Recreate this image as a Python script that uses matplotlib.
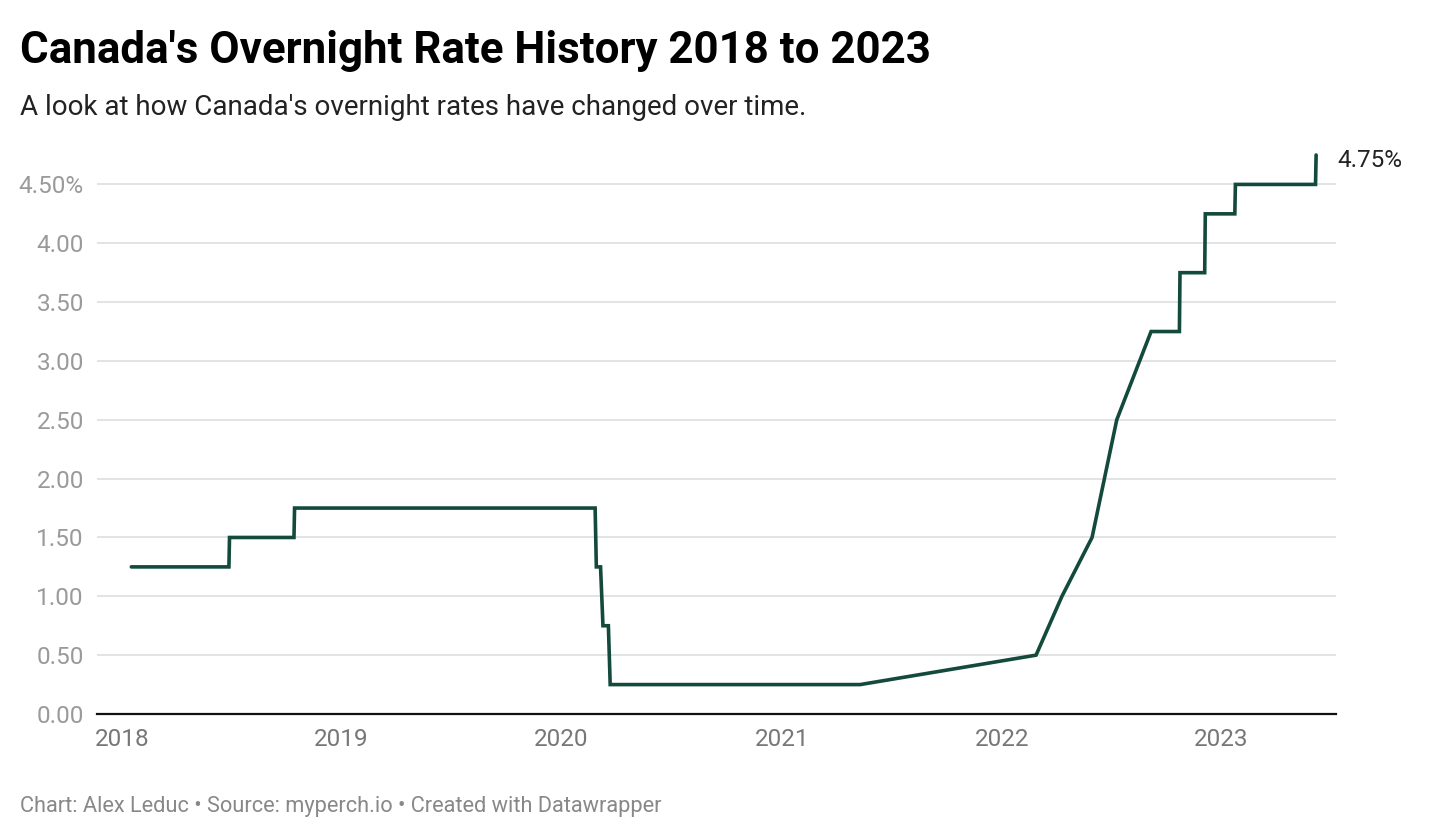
import matplotlib
matplotlib.use("Agg")
import matplotlib.pyplot as plt
import pandas as pd

plt.rcParams["font.family"] = ["Roboto", "DejaVu Sans"]

dates = [
    "2018-01-17", "2018-06-28", "2018-06-29", "2018-10-14", "2018-10-15",
    "2020-02-26", "2020-02-28", "2020-03-06", "2020-03-10", "2020-03-19",
    "2020-03-22", "2021-05-11", "2022-02-27", "2022-04-11", "2022-05-31",
    "2022-07-11", "2022-09-06", "2022-10-23", "2022-10-24", "2022-12-04",
    "2022-12-05", "2023-01-23", "2023-01-24", "2023-06-06", "2023-06-07",
]
rates = [
    1.25, 1.25, 1.50, 1.50, 1.75,
    1.75, 1.25, 1.25, 0.75, 0.75,
    0.25, 0.25, 0.50, 1.00, 1.50,
    2.50, 3.25, 3.25, 3.75, 3.75,
    4.25, 4.25, 4.50, 4.50, 4.75,
]
y_ticks = [0, 0.5, 1.0, 1.5, 2.0, 2.5, 3.0, 3.5, 4.0, 4.5]
y_labels = ["0.00", "0.50", "1.00", "1.50", "2.00", "2.50", "3.00", "3.50", "4.00", "4.50%"]
years = [2018, 2019, 2020, 2021, 2022, 2023]

dates = pd.to_datetime(dates)

W, H = 1440, 840
fig = plt.figure(figsize=(W / 100, H / 100), dpi=100)
ax = fig.add_axes([97 / W, 1 - 714 / H, (1336 - 97) / W, (714 - 155) / H])

ax.plot(dates, rates, color="#134a3c", lw=2.6, solid_joinstyle="miter",
        solid_capstyle="round", clip_on=False, zorder=3)

ax.set_xlim(pd.Timestamp("2017-11-21"), pd.Timestamp("2023-07-10"))
ax.set_ylim(0, 4.75)

ax.set_yticks(y_ticks)
ax.set_yticklabels(y_labels)
ax.set_xticks([pd.Timestamp(f"{y}-01-01") for y in years])
ax.set_xticklabels([str(y) for y in years])

ax.grid(axis="y", color="#e3e3e3", lw=1.4)
ax.set_axisbelow(True)
for s in ["top", "right", "left"]:
    ax.spines[s].set_visible(False)
ax.spines["bottom"].set_color("#111111")
ax.spines["bottom"].set_linewidth(1.6)
ax.spines["bottom"].set_zorder(4)

ax.tick_params(axis="y", length=0, pad=9.5, labelsize=17.5, labelcolor="#9a9a9a")
ax.tick_params(axis="x", length=0, pad=10, labelsize=17.5, labelcolor="#777777")

# end label
ax.annotate("4.75%", xy=(dates[-1], rates[-1]), xytext=(15, -4),
            textcoords="offset points", va="center", ha="left",
            fontsize=17.5, color="#222222")

fig.text(20 / W, 1 - 63 / H, "Canada's Overnight Rate History 2018 to 2023",
         fontsize=31.6, fontweight="bold", color="#000000", va="baseline")
fig.text(20 / W, 1 - 115 / H, "A look at how Canada's overnight rates have changed over time.",
         fontsize=20, color="#222222", va="baseline")
fig.text(20 / W, 1 - 812 / H,
         "Chart: Alex Leduc \u2022 Source: myperch.io \u2022 Created with Datawrapper",
         fontsize=15.7, color="#888888", va="baseline")

fig.savefig("out.png", dpi=100)
